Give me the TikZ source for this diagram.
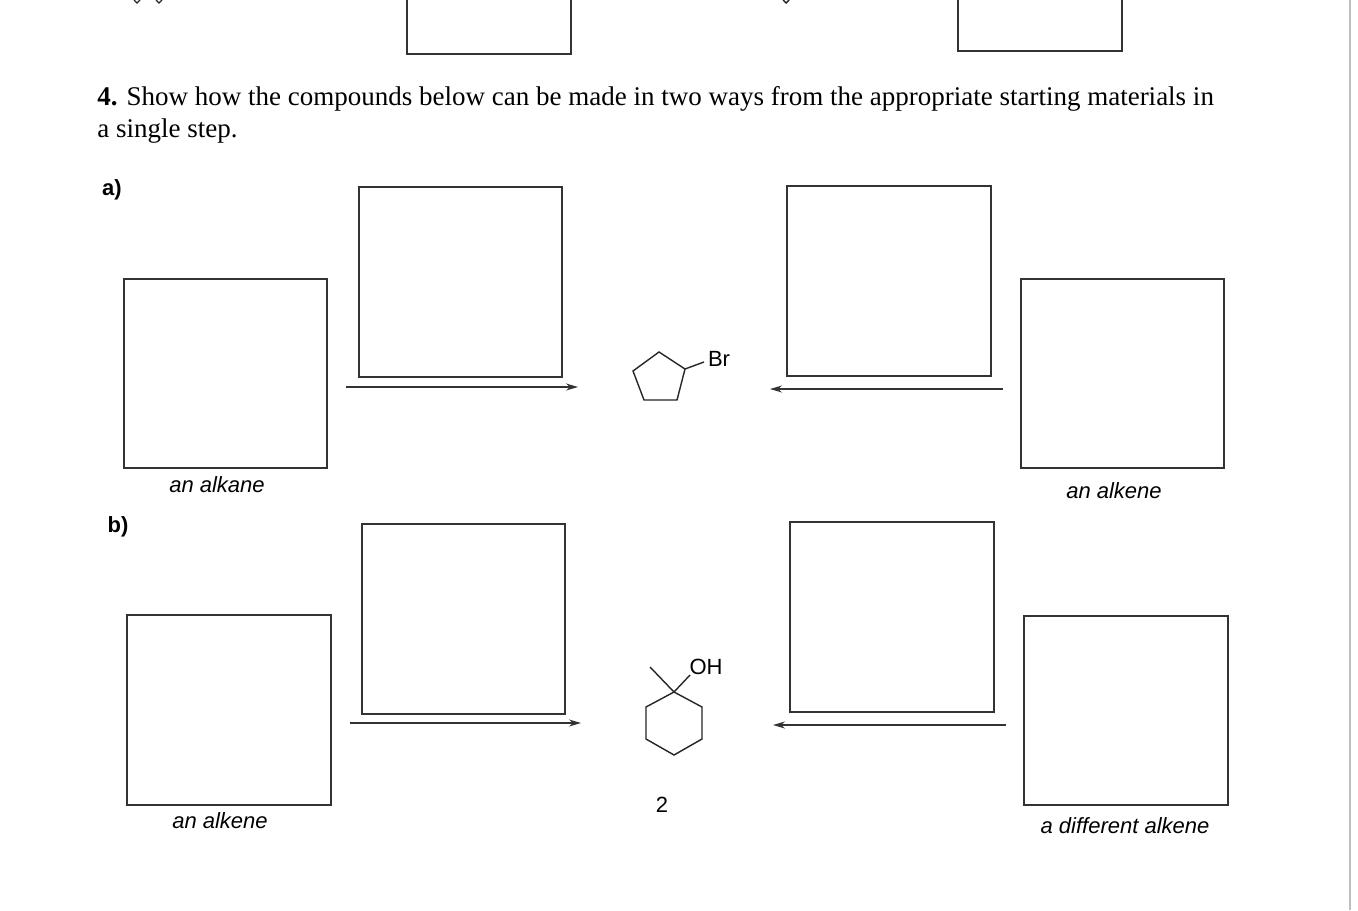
\documentclass[tikz,border=0pt]{standalone}
\usepackage{fontspec}
\setmainfont{Liberation Serif}
\newfontfamily\labfont{Liberation Sans}
\usetikzlibrary{arrows.meta}
\begin{document}
\begin{tikzpicture}[x=0.5pt,y=-0.5pt,
  abox/.style={draw=black!80,line width=0.6pt},
  rarrow/.style={draw=black!80,line width=0.6pt,-{Stealth[length=6pt,width=3.5pt]}},
  lab/.style={font=\labfont\itshape\fontsize{11}{13}\selectfont},
  part/.style={font=\labfont\bfseries\fontsize{11}{13}\selectfont},
  bond/.style={line width=0.7pt,black!85}]
\useasboundingbox (0,0) rectangle (1358,910);
\fill[white] (0,0) rectangle (1358,910);
\draw[black!25,line width=1pt] (1350,0) -- (1350,910);
% top remnants
\draw[abox] (407,-2) rectangle (571,54);
\draw[abox] (958,-2) rectangle (1122,51);
\draw[bond] (134,0) -- (137,3) -- (140,0);
\draw[bond] (156,0) -- (159,3) -- (162,0);
\draw[bond] (783,0) -- (786,3) -- (789,0);
% heading
\node[anchor=base west,inner sep=0,font=\fontsize{13.5}{16}\selectfont] (h1) at (97,105) {\textbf{4.} Show how the compounds below can be made in two ways from the appropriate starting materials in};
\node[anchor=base west,inner sep=0,font=\fontsize{13.5}{16}\selectfont] (h2) at (97,137) {a single step.};
% part a
\node[part] (pa) at (112,190) {a)};
\node[abox,minimum width=101.5pt,minimum height=95pt,inner sep=0] (a1) at (460.5,282) {};
\node[abox,minimum width=102pt,minimum height=95pt,inner sep=0] (a2) at (889,281) {};
\node[abox,minimum width=101.5pt,minimum height=94.5pt,inner sep=0] (a3) at (225.5,373.5) {};
\node[abox,minimum width=101.5pt,minimum height=94.5pt,inner sep=0] (a4) at (1122.5,373.5) {};
\coordinate (a5s) at (346,387); \coordinate (a5e) at (578,387);
\coordinate (a6s) at (1003,389); \coordinate (a6e) at (770,389);
\draw[rarrow] (a5s) -- (a5e);
\draw[rarrow] (a6s) -- (a6e);
\node[lab] (l1) at (217,485) {an alkane};
\node[lab] (l2) at (1114,491) {an alkene};
% bromocyclopentane
\draw[bond] (659,352) -- (685,369) -- (677,400) -- (644,400) -- (633,371) -- cycle;
\draw[bond] (685,369) -- (704,362);
\node[font=\labfont\fontsize{11}{13}\selectfont,inner sep=0] (br) at (719,359) {Br};
% part b
\node[part] (pb) at (118,527) {b)};
\node[abox,minimum width=101.5pt,minimum height=95pt,inner sep=0] (b1) at (463.5,619) {};
\node[abox,minimum width=102pt,minimum height=95pt,inner sep=0] (b2) at (892,617) {};
\node[abox,minimum width=102pt,minimum height=95pt,inner sep=0] (b3) at (229,710) {};
\node[abox,minimum width=102pt,minimum height=94.5pt,inner sep=0] (b4) at (1126,710.5) {};
\coordinate (b5s) at (350,723); \coordinate (b5e) at (581,723);
\coordinate (b6s) at (1006,725); \coordinate (b6e) at (773,725);
\draw[rarrow] (b5s) -- (b5e);
\draw[rarrow] (b6s) -- (b6e);
\node[lab] (l3) at (220,821) {an alkene};
\node[lab] (l4) at (1125,826) {a different alkene};
% 1-methylcyclohexanol
\draw[bond] (674,692) -- (702,707) -- (702,739) -- (674,755) -- (646,739) -- (646,707) -- cycle;
\draw[bond] (674,692) -- (650,667);
\draw[bond] (674,692) -- (690,675);
\node[font=\labfont\fontsize{11}{13}\selectfont,inner sep=0] (oh) at (706,667) {OH};
\node[font=\labfont\fontsize{11}{13}\selectfont,inner sep=0] (two) at (662,805) {2};
\end{tikzpicture}
\end{document}
